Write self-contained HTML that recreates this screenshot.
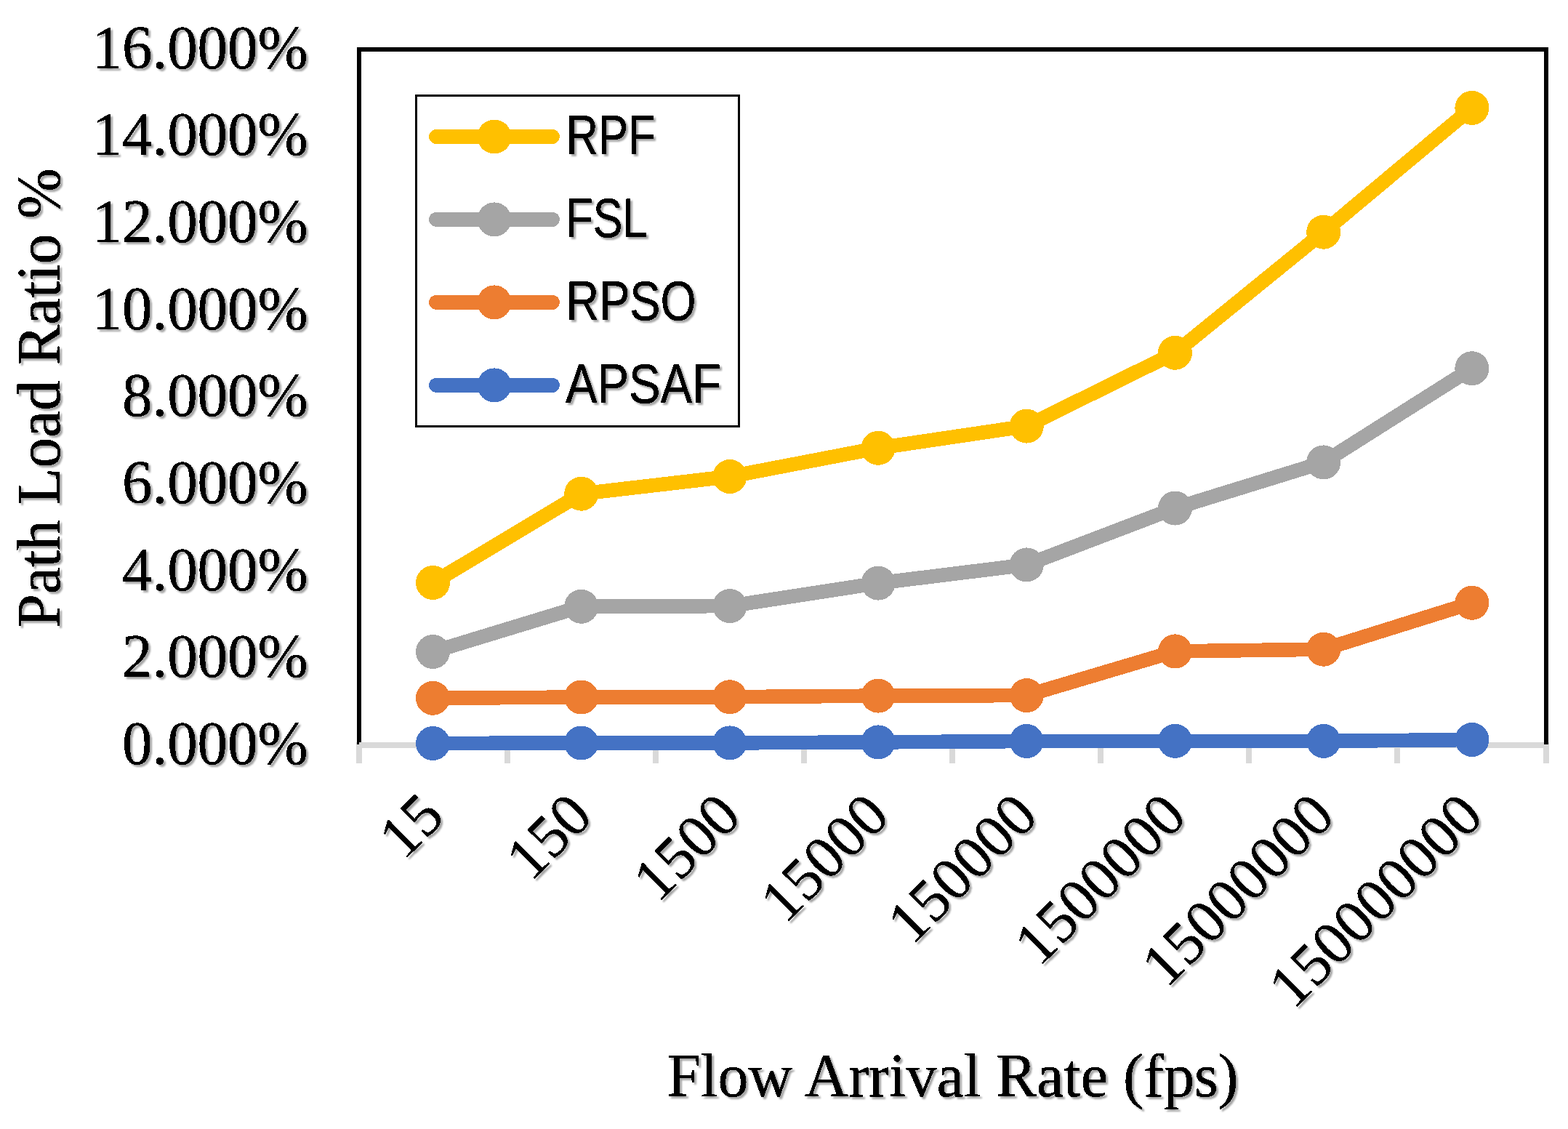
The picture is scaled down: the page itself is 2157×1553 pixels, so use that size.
<!DOCTYPE html>
<html><head><meta charset="utf-8"><title>Path Load Ratio chart</title>
<style>
html,body{margin:0;padding:0;background:#fff;width:2157px;height:1553px;overflow:hidden}
svg{display:block}
.t{font-family:"Liberation Serif","Times New Roman",serif;fill:#000}
.l{font-family:"Liberation Sans",Arial,sans-serif;fill:#000}
</style></head><body>
<svg width="2157" height="1553" viewBox="0 0 2157 1553">
<defs>
<filter id="sh" x="-5%" y="-5%" width="115%" height="115%" color-interpolation-filters="sRGB">
<feComponentTransfer in="SourceAlpha" result="a"><feFuncA type="discrete" tableValues="0 1 1 1"/></feComponentTransfer>
<feGaussianBlur in="a" stdDeviation="1.2" result="b"/>
<feOffset in="b" dx="2.5" dy="2.5" result="o"/>
<feFlood flood-color="#000" flood-opacity="0.35"/>
<feComposite in2="o" operator="in" result="s"/>
<feMerge><feMergeNode in="s"/><feMergeNode in="a"/></feMerge>
</filter>
</defs>
<rect x="0" y="0" width="2157" height="1553" fill="#fff"/>
<g shape-rendering="crispEdges">
<path d="M494 1024 V68 H2127 V1024" fill="none" stroke="#000" stroke-width="6"/>
<g fill="#D9D9D9">
<rect x="490" y="1021" width="1640" height="8"/>
<rect x="490.0" y="1021" width="8" height="29"/>
<rect x="694.1" y="1021" width="8" height="29"/>
<rect x="898.1" y="1021" width="8" height="29"/>
<rect x="1102.2" y="1021" width="8" height="29"/>
<rect x="1306.2" y="1021" width="8" height="29"/>
<rect x="1510.3" y="1021" width="8" height="29"/>
<rect x="1714.4" y="1021" width="8" height="29"/>
<rect x="1918.4" y="1021" width="8" height="29"/>
<rect x="2122.5" y="1021" width="8" height="29"/>
</g>
<path d="M491 1021h3v3h-3zM2124 1021h6v3h-6z" fill="#000"/>
<polyline points="595.5,1022.5 799.7,1022.0 1003.9,1021.9 1208.1,1020.9 1412.3,1019.5 1616.5,1019.4 1820.7,1019.4 2024.9,1017.5" fill="none" stroke="#4472C4" stroke-width="19.6" stroke-linejoin="round" stroke-linecap="round"/>
<circle cx="595.5" cy="1022.5" r="23.5" fill="#4472C4"/>
<circle cx="799.7" cy="1022.0" r="23.5" fill="#4472C4"/>
<circle cx="1003.9" cy="1021.9" r="23.5" fill="#4472C4"/>
<circle cx="1208.1" cy="1020.9" r="23.5" fill="#4472C4"/>
<circle cx="1412.3" cy="1019.5" r="23.5" fill="#4472C4"/>
<circle cx="1616.5" cy="1019.4" r="23.5" fill="#4472C4"/>
<circle cx="1820.7" cy="1019.4" r="23.5" fill="#4472C4"/>
<circle cx="2024.9" cy="1017.5" r="23.5" fill="#4472C4"/>
<polyline points="595.5,960.3 799.7,959.0 1003.9,958.7 1208.1,957.1 1412.3,956.6 1616.5,895.9 1820.7,893.2 2024.9,829.3" fill="none" stroke="#ED7D31" stroke-width="19.6" stroke-linejoin="round" stroke-linecap="round"/>
<circle cx="595.5" cy="960.3" r="23.5" fill="#ED7D31"/>
<circle cx="799.7" cy="959.0" r="23.5" fill="#ED7D31"/>
<circle cx="1003.9" cy="958.7" r="23.5" fill="#ED7D31"/>
<circle cx="1208.1" cy="957.1" r="23.5" fill="#ED7D31"/>
<circle cx="1412.3" cy="956.6" r="23.5" fill="#ED7D31"/>
<circle cx="1616.5" cy="895.9" r="23.5" fill="#ED7D31"/>
<circle cx="1820.7" cy="893.2" r="23.5" fill="#ED7D31"/>
<circle cx="2024.9" cy="829.3" r="23.5" fill="#ED7D31"/>
<polyline points="595.5,896.5 799.7,834.3 1003.9,833.6 1208.1,802.1 1412.3,776.9 1616.5,699.0 1820.7,635.9 2024.9,506.7" fill="none" stroke="#A5A5A5" stroke-width="19.6" stroke-linejoin="round" stroke-linecap="round"/>
<circle cx="595.5" cy="896.5" r="23.5" fill="#A5A5A5"/>
<circle cx="799.7" cy="834.3" r="23.5" fill="#A5A5A5"/>
<circle cx="1003.9" cy="833.6" r="23.5" fill="#A5A5A5"/>
<circle cx="1208.1" cy="802.1" r="23.5" fill="#A5A5A5"/>
<circle cx="1412.3" cy="776.9" r="23.5" fill="#A5A5A5"/>
<circle cx="1616.5" cy="699.0" r="23.5" fill="#A5A5A5"/>
<circle cx="1820.7" cy="635.9" r="23.5" fill="#A5A5A5"/>
<circle cx="2024.9" cy="506.7" r="23.5" fill="#A5A5A5"/>
<polyline points="595.5,801.5 799.7,679.2 1003.9,655.5 1208.1,616.3 1412.3,586.1 1616.5,485.3 1820.7,319.2 2024.9,148.4" fill="none" stroke="#FFC000" stroke-width="19.6" stroke-linejoin="round" stroke-linecap="round"/>
<circle cx="595.5" cy="801.5" r="23.5" fill="#FFC000"/>
<circle cx="799.7" cy="679.2" r="23.5" fill="#FFC000"/>
<circle cx="1003.9" cy="655.5" r="23.5" fill="#FFC000"/>
<circle cx="1208.1" cy="616.3" r="23.5" fill="#FFC000"/>
<circle cx="1412.3" cy="586.1" r="23.5" fill="#FFC000"/>
<circle cx="1616.5" cy="485.3" r="23.5" fill="#FFC000"/>
<circle cx="1820.7" cy="319.2" r="23.5" fill="#FFC000"/>
<circle cx="2024.9" cy="148.4" r="23.5" fill="#FFC000"/>
</g>
<g class="t" filter="url(#sh)" font-size="84.3" text-anchor="end">
<text transform="translate(423.5,1050.90) scale(0.983,1)">0.000%</text>
<text transform="translate(423.5,931.24) scale(0.983,1)">2.000%</text>
<text transform="translate(423.5,811.58) scale(0.983,1)">4.000%</text>
<text transform="translate(423.5,691.92) scale(0.983,1)">6.000%</text>
<text transform="translate(423.5,572.26) scale(0.983,1)">8.000%</text>
<text transform="translate(423.5,452.60) scale(0.983,1)">10.000%</text>
<text transform="translate(423.5,332.94) scale(0.983,1)">12.000%</text>
<text transform="translate(423.5,213.28) scale(0.983,1)">14.000%</text>
<text transform="translate(423.5,93.62) scale(0.983,1)">16.000%</text>
</g>
<g class="t" filter="url(#sh)" font-size="83" text-anchor="end">
<text transform="translate(614.0,1125.8) rotate(-45)">15</text>
<text transform="translate(818.2,1125.8) rotate(-45)">150</text>
<text transform="translate(1022.4,1125.8) rotate(-45)">1500</text>
<text transform="translate(1226.6,1125.8) rotate(-45)">15000</text>
<text transform="translate(1430.8,1125.8) rotate(-45)">150000</text>
<text transform="translate(1635.0,1125.8) rotate(-45)">1500000</text>
<text transform="translate(1839.2,1125.8) rotate(-45)">15000000</text>
<text transform="translate(2043.4,1125.8) rotate(-45)">150000000</text>
</g>
<g filter="url(#sh)"><text class="t" font-size="84.5" text-anchor="middle" transform="translate(82,547.4) rotate(-90) scale(0.9866,1)">Path Load Ratio %</text></g>
<g filter="url(#sh)"><text class="t" font-size="84" text-anchor="middle" transform="translate(1310.5,1508) scale(1.0,1)">Flow Arrival Rate (fps)</text></g>
<g shape-rendering="crispEdges">
<rect x="572.5" y="131.5" width="444" height="455" fill="none" stroke="#000" stroke-width="3"/>
<line x1="600" y1="188.0" x2="760" y2="188.0" stroke="#FFC000" stroke-width="20" stroke-linecap="round"/>
<circle cx="680" cy="188.0" r="23.5" fill="#FFC000"/>
<line x1="600" y1="301.9" x2="760" y2="301.9" stroke="#A5A5A5" stroke-width="20" stroke-linecap="round"/>
<circle cx="680" cy="301.9" r="23.5" fill="#A5A5A5"/>
<line x1="600" y1="415.9" x2="760" y2="415.9" stroke="#ED7D31" stroke-width="20" stroke-linecap="round"/>
<circle cx="680" cy="415.9" r="23.5" fill="#ED7D31"/>
<line x1="600" y1="529.9" x2="760" y2="529.9" stroke="#4472C4" stroke-width="20" stroke-linecap="round"/>
<circle cx="680" cy="529.9" r="23.5" fill="#4472C4"/>
</g>
<g class="l" filter="url(#sh)" font-size="75.7">
<text transform="translate(778.5,212.00) scale(0.8135,1)">RPF</text>
<text transform="translate(778.5,325.95) scale(0.806,1)">FSL</text>
<text transform="translate(778.5,439.90) scale(0.835,1)">RPSO</text>
<text transform="translate(778,553.85) scale(0.862,1)">APSAF</text>
</g>
</svg>
</body></html>
